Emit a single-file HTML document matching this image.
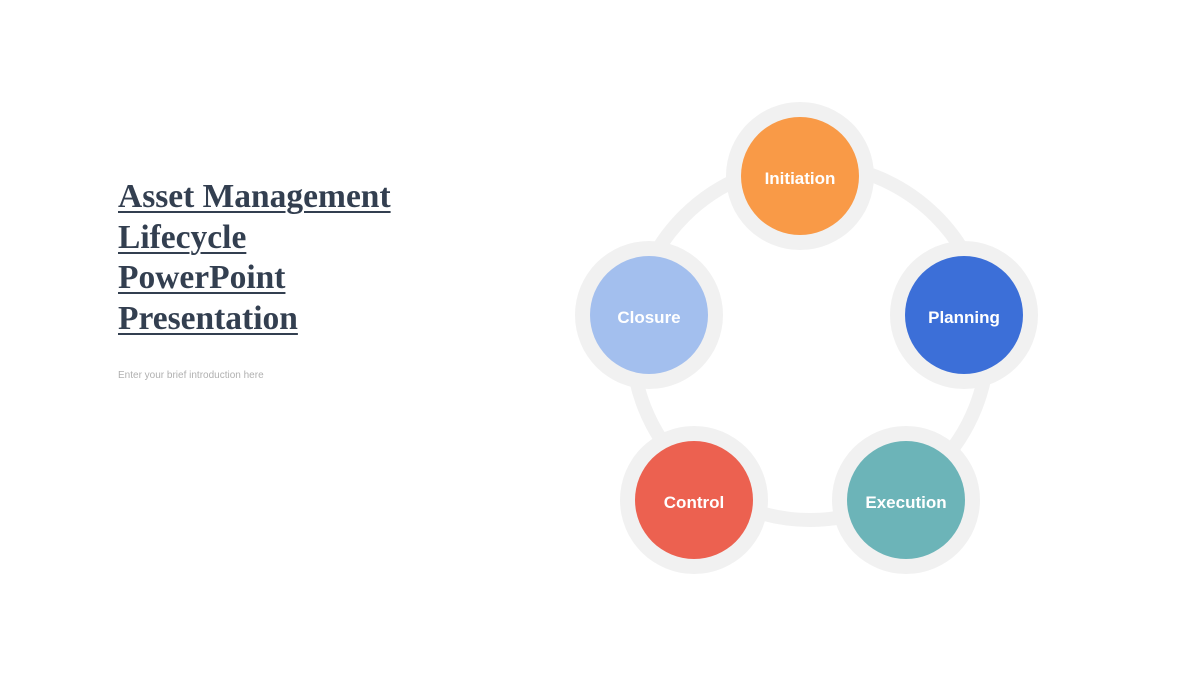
<!DOCTYPE html>
<html><head><meta charset="utf-8"><style>
html,body{margin:0;padding:0;background:#fff;}
body{width:1200px;height:675px;position:relative;overflow:hidden;}
.t{position:absolute;left:118px;top:177px;font-family:"Liberation Serif",serif;font-weight:bold;font-size:33.5px;line-height:40.5px;color:#333f50;text-decoration:underline;text-decoration-thickness:2px;text-underline-offset:4px;}
.s{position:absolute;left:118px;top:370px;font-family:"Liberation Sans",sans-serif;font-size:10px;color:#b0b0b0;}
</style></head><body>
<div class="t">Asset Management<br>Lifecycle<br>PowerPoint<br>Presentation</div>
<div class="s">Enter your brief introduction here</div>
<svg width="1200" height="675" style="position:absolute;left:0;top:0" font-family="Liberation Sans, sans-serif" font-size="17" font-weight="bold" fill="#fff" text-anchor="middle">
<circle cx="810" cy="342" r="178" fill="none" stroke="#f1f1f1" stroke-width="14"/>
<g fill="#f1f1f1">
<circle cx="800" cy="176" r="74"/><circle cx="964" cy="315" r="74"/><circle cx="649" cy="315" r="74"/><circle cx="694" cy="500" r="74"/><circle cx="906" cy="500" r="74"/>
</g>
<circle cx="800" cy="176" r="59" fill="#f99a47"/>
<circle cx="964" cy="315" r="59" fill="#3c6fd8"/>
<circle cx="649" cy="315" r="59" fill="#a3bfee"/>
<circle cx="694" cy="500" r="59" fill="#ec6150"/>
<circle cx="906" cy="500" r="59" fill="#6cb4b8"/>
<text x="800" y="184">Initiation</text>
<text x="964" y="323">Planning</text>
<text x="649" y="323">Closure</text>
<text x="694" y="508">Control</text>
<text x="906" y="508">Execution</text>
</svg>
</body></html>
